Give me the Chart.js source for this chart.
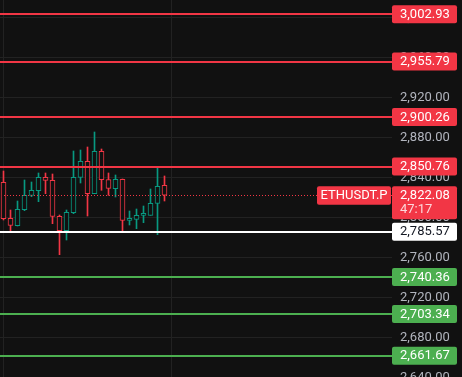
<!DOCTYPE html>
<html>
<head>
<meta charset="utf-8">
<script src="https://cdn.jsdelivr.net/npm/chart.js@4.4.1/dist/chart.umd.min.js"></script>
<style>
  html, body { margin: 0; padding: 0; background: #111111; }
  #wrap { width: 462px; height: 377px; }
</style>
</head>
<body>
<div id="wrap"><canvas id="chart"></canvas></div>
<script>
// candles, oldest first
const opens  = [2835.0, 2799.0, 2791.6, 2807.6, 2822.0, 2826.6, 2840.0, 2837.0, 2801.0, 2786.6, 2804.6, 2840.0,
                2856.0, 2823.6, 2866.0, 2837.6, 2828.6, 2838.0, 2797.0, 2798.0, 2802.0, 2802.0, 2814.0, 2832.0];
const highs  = [2846.3, 2807.3, 2816.3, 2837.3, 2835.3, 2844.3, 2844.3, 2843.3, 2802.3, 2807.3, 2866.3, 2867.3,
                2870.3, 2885.3, 2868.3, 2844.3, 2842.3, 2838.3, 2806.3, 2808.3, 2811.3, 2828.3, 2849.3, 2841.3];
const lows   = [2797.3, 2785.6, 2791.3, 2806.6, 2820.6, 2815.6, 2823.6, 2793.6, 2762.6, 2777.3, 2803.6, 2834.3,
                2801.3, 2823.6, 2827.0, 2822.0, 2820.3, 2786.6, 2792.3, 2788.6, 2794.6, 2802.0, 2782.6, 2816.3];
const closes = [2798.6, 2792.0, 2808.0, 2822.0, 2827.0, 2840.0, 2837.0, 2801.0, 2786.6, 2805.0, 2840.0, 2856.0,
                2823.6, 2866.0, 2837.6, 2829.0, 2838.0, 2797.0, 2798.0, 2802.0, 2802.3, 2814.0, 2831.0, 2822.08];

const slotCount = 56; // candle slots incl. empty space on the right
const gridSlots = [0, 24];
const priceTicks = [2640, 2680, 2720, 2760, 2800, 2840, 2880, 2920, 2960, 3000];

const redLevels = [3002.93, 2955.79, 2900.26, 2850.76];
const whiteLevels = [2785.57];
const greenLevels = [2740.36, 2703.34, 2661.67];
const lastPrice = 2822.08;
const symbol = 'ETHUSDT.P';
const countdown = '47:17';

const UP = '#089981', DOWN = '#f23645', GREEN = '#4caf50', GRID = '#222222';
const fmt = v => v.toLocaleString('en-US', { minimumFractionDigits: 2, maximumFractionDigits: 2 });

const labels = Array.from({ length: slotCount }, (_, i) => String(i));
const candleColors = opens.map((o, i) => closes[i] >= o ? UP : DOWN);

function box(ctx, x, y, w, h, fill) {
  ctx.fillStyle = fill;
  ctx.beginPath();
  ctx.roundRect(x, y, w, h, 2);
  ctx.fill();
}

const levelsPlugin = {
  id: 'levels',
  afterDatasetsDraw(chart) {
    const { ctx, chartArea: a, scales: { y } } = chart;
    ctx.save();
    // last price, dotted
    const py = Math.round(y.getPixelForValue(lastPrice)) + 0.5;
    ctx.strokeStyle = DOWN;
    ctx.lineWidth = 1;
    ctx.setLineDash([1, 2]);
    ctx.beginPath();
    ctx.moveTo(a.left + 4, py);
    ctx.lineTo(a.right, py);
    ctx.stroke();
    ctx.setLineDash([]);
    const lines = [[redLevels, DOWN], [whiteLevels, '#ffffff'], [greenLevels, GREEN]];
    ctx.lineWidth = 2;
    lines.forEach(([vals, col]) => {
      ctx.strokeStyle = col;
      vals.forEach(v => {
        const ly = Math.round(y.getPixelForValue(v));
        ctx.beginPath();
        ctx.moveTo(a.left, ly);
        ctx.lineTo(a.right, ly);
        ctx.stroke();
      });
    });
    ctx.restore();
  },
  afterDraw(chart) {
    const { ctx, chartArea: a, scales: { y } } = chart;
    ctx.save();
    ctx.font = '13px Roboto';
    ctx.textBaseline = 'middle';
    ctx.textAlign = 'left';
    const bx = a.right, bw = 65, tx = a.right + 8;
    const tags = [[redLevels, DOWN, '#ffffff'], [whiteLevels, '#ffffff', '#131722'], [greenLevels, GREEN, '#ffffff']];
    tags.forEach(([vals, bg, fg]) => {
      vals.forEach(v => {
        const ly = y.getPixelForValue(v);
        box(ctx, bx, ly - 9, bw, 18, bg);
        ctx.fillStyle = fg;
        ctx.fillText(fmt(v), tx, ly + 0.5);
      });
    });
    // last price tag with countdown
    const py = y.getPixelForValue(lastPrice);
    box(ctx, bx, py - 9, bw, 33, DOWN);
    ctx.fillStyle = '#ffffff';
    ctx.fillText(fmt(lastPrice), tx, py + 0.5);
    ctx.fillStyle = 'rgba(255,255,255,0.8)';
    ctx.fillText(countdown, tx, py + 14.5);
    // symbol tag
    box(ctx, a.right - 75, py - 9, 74, 18.5, DOWN);
    ctx.fillStyle = '#ffffff';
    ctx.textAlign = 'center';
    ctx.fillText(symbol, a.right - 38, py + 0.5);
    ctx.restore();
  }
};

new Chart(document.getElementById('chart'), {
  type: 'bar',
  data: {
    labels: labels,
    datasets: [
      {
        label: 'body',
        data: opens.map((o, i) => [o, closes[i]]),
        backgroundColor: '#111111',
        borderColor: candleColors,
        borderWidth: 1,
        borderSkipped: false,
        barThickness: 5,
        minBarLength: 2,
        grouped: false,
        order: 0
      },
      {
        label: 'wick',
        data: lows.map((l, i) => [l, highs[i]]),
        backgroundColor: candleColors,
        borderWidth: 0,
        barThickness: 1,
        grouped: false,
        order: 1
      }
    ]
  },
  options: {
    responsive: true,
    maintainAspectRatio: false,
    animation: false,
    layout: { padding: 0 },
    plugins: { legend: { display: false }, tooltip: { enabled: false } },
    scales: {
      x: {
        offset: true,
        grid: {
          offset: false,
          drawTicks: false,
          color: c => gridSlots.includes(c.index) ? GRID : 'transparent'
        },
        border: { display: false },
        ticks: { display: false, autoSkip: false }
      },
      y: {
        position: 'right',
        min: 2640.3,
        max: 3017.3,
        afterBuildTicks: s => { s.ticks = priceTicks.map(v => ({ value: v })); },
        afterFit: s => { s.width = 70; s.paddingTop = 0; s.paddingBottom = 0; },
        grid: { color: GRID, drawTicks: false },
        border: { display: false },
        ticks: {
          padding: 8,
          color: '#b2b5be',
          font: { family: 'Roboto', size: 13 },
          callback: v => fmt(v)
        }
      }
    }
  },
  plugins: [levelsPlugin]
});
</script>
</body>
</html>
